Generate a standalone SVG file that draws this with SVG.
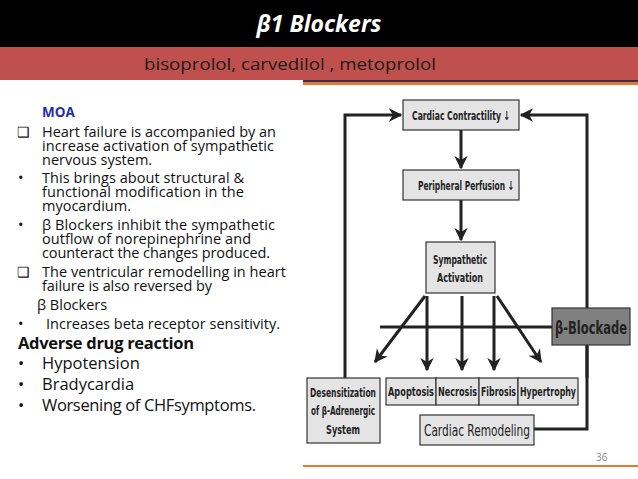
<svg xmlns="http://www.w3.org/2000/svg" width="638" height="479" viewBox="0 0 638 479">
<defs>
<marker id="ah" viewBox="0 0 10 10" refX="9" refY="5" markerWidth="4.5" markerHeight="5" orient="auto" markerUnits="strokeWidth"><path d="M0,0 L10,5 L0,10 L3,5 z" fill="#222"/></marker>
<style>
.t{font-family:"Open Sans",sans-serif;font-size:14.5px;fill:#111}
.b{font-family:"DejaVu Sans Condensed","Liberation Sans",sans-serif;font-weight:bold;fill:#222;text-anchor:middle}
.bx{fill:#e4e4e4;stroke:#333;stroke-width:1.2}
.c{stroke:#222;fill:none;stroke-width:3}
</style>
</defs>
<rect width="638" height="479" fill="#fff"/>
<rect x="0" y="0" width="638" height="47" fill="#000"/>
<text x="319" y="32" text-anchor="middle" font-family="Open Sans,sans-serif" font-style="italic" font-weight="bold" font-size="23" fill="#fff">β1 Blockers</text>
<rect x="0" y="47" width="638" height="33" fill="#c0504d"/>
<text x="144" y="70" font-family="Open Sans,sans-serif" font-size="16.5" fill="#1a1a1a" textLength="292" lengthAdjust="spacingAndGlyphs">bisoprolol, carvedilol , metoprolol</text>
<rect x="303" y="80" width="335" height="2" fill="#3a2f4a"/>
<rect x="303" y="82" width="335" height="3" fill="#e07a2e"/>
<g id="text">
<text x="42" y="117" font-family="Open Sans,sans-serif" font-weight="bold" font-size="13.5" fill="#1f2fae">MOA</text>
<text class="t"><tspan x="17" y="137" font-size="14">❑</tspan><tspan x="42" y="137" textLength="234">Heart failure is accompanied by an</tspan><tspan x="42" y="151" textLength="232">increase activation of sympathetic</tspan><tspan x="42" y="165">nervous system.</tspan>
<tspan x="18" y="183">•</tspan><tspan x="42" y="183" textLength="202">This brings about structural &amp;</tspan><tspan x="42" y="197" textLength="202">functional modification in the</tspan><tspan x="42" y="211">myocardium.</tspan>
<tspan x="18" y="230">•</tspan><tspan x="42" y="230" textLength="233">β Blockers  inhibit the sympathetic</tspan><tspan x="42" y="244" textLength="209">outflow of norepinephrine and</tspan><tspan x="42" y="258" textLength="228">counteract the changes produced.</tspan>
<tspan x="17" y="277" font-size="14">❑</tspan><tspan x="42" y="277" textLength="244">The ventricular remodelling in heart</tspan><tspan x="42" y="291" textLength="170">failure is also reversed by</tspan>
<tspan x="37" y="310">β Blockers</tspan>
<tspan x="18" y="329">•</tspan><tspan x="46" y="329" textLength="234">Increases beta receptor sensitivity.</tspan></text>
<text x="18" y="349" font-family="Open Sans,sans-serif" font-weight="bold" font-size="16.5" fill="#111" textLength="176">Adverse drug reaction</text>
<text class="t" style="font-size:16.5px"><tspan x="18" y="369">•</tspan><tspan x="42" y="369">Hypotension</tspan><tspan x="18" y="390">•</tspan><tspan x="42" y="390">Bradycardia</tspan><tspan x="18" y="411">•</tspan><tspan x="42" y="411" textLength="214">Worsening of CHFsymptoms.</tspan></text>
</g>
<g id="connectors">
<line class="c" x1="380" y1="327" x2="552" y2="327"/>
<polyline class="c" points="587,378 587,115 521,115" marker-end="url(#ah)"/>
<polyline class="c" points="534,429 587,429 587,345"/>
<polyline class="c" points="345,378 345,115 401,115" marker-end="url(#ah)"/>
<line class="c" x1="461" y1="130" x2="461" y2="168" marker-end="url(#ah)"/>
<line class="c" x1="461" y1="200" x2="461" y2="240" marker-end="url(#ah)"/>
<line class="c" x1="425" y1="296" x2="375" y2="362" marker-end="url(#ah)"/>
<line class="c" x1="427" y1="296" x2="427" y2="370" marker-end="url(#ah)"/>
<line class="c" x1="462" y1="296" x2="462" y2="370" marker-end="url(#ah)"/>
<line class="c" x1="494" y1="296" x2="494" y2="370" marker-end="url(#ah)"/>
<line class="c" x1="497" y1="296" x2="541" y2="362" marker-end="url(#ah)"/>
</g>
<g id="n-contract"><rect class="bx" x="403" y="100" width="116" height="30"/><text class="b" x="461" y="120" font-size="12.5" textLength="98" lengthAdjust="spacingAndGlyphs">Cardiac Contractility ↓</text></g>
<g id="n-perf"><rect class="bx" x="403" y="170" width="116" height="30"/><text class="b" x="466" y="190" font-size="12.5" textLength="96" lengthAdjust="spacingAndGlyphs">Peripheral Perfusion ↓</text></g>
<g id="n-symp"><rect class="bx" x="426" y="242" width="69" height="51"/><text class="b" x="460" y="264" font-size="12.5" textLength="54" lengthAdjust="spacingAndGlyphs">Sympathetic</text><text class="b" x="460" y="282" font-size="12.5" textLength="46" lengthAdjust="spacingAndGlyphs">Activation</text></g>
<g id="n-block"><rect x="552" y="308" width="78" height="37" fill="#808080" stroke="#333" stroke-width="1.2"/><text class="b" x="591" y="334" font-size="18" textLength="72" lengthAdjust="spacingAndGlyphs">β-Blockade</text></g>
<g id="n-desens"><rect class="bx" x="307" y="378" width="73" height="65"/><text class="b" x="343" y="397" font-size="12" textLength="66" lengthAdjust="spacingAndGlyphs">Desensitization</text><text class="b" x="343" y="415" font-size="12" textLength="64" lengthAdjust="spacingAndGlyphs">of β-Adrenergic</text><text class="b" x="343" y="434" font-size="12" textLength="34" lengthAdjust="spacingAndGlyphs">System</text></g>
<g id="n-apop"><rect class="bx" x="386" y="378" width="50" height="27"/><text class="b" x="411" y="396" font-size="12" textLength="46" lengthAdjust="spacingAndGlyphs">Apoptosis</text></g>
<g id="n-necr"><rect class="bx" x="436" y="378" width="43" height="27"/><text class="b" x="457.5" y="396" font-size="12" textLength="39" lengthAdjust="spacingAndGlyphs">Necrosis</text></g>
<g id="n-fib"><rect class="bx" x="479" y="378" width="39" height="27"/><text class="b" x="498.5" y="396" font-size="12" textLength="35" lengthAdjust="spacingAndGlyphs">Fibrosis</text></g>
<g id="n-hyp"><rect class="bx" x="518" y="378" width="60" height="27"/><text class="b" x="548" y="396" font-size="12" textLength="56" lengthAdjust="spacingAndGlyphs">Hypertrophy</text></g>
<g id="n-remod"><rect class="bx" x="420" y="415" width="114" height="30"/><text class="b" x="477" y="436" font-size="15" textLength="106" lengthAdjust="spacingAndGlyphs" style="font-weight:normal">Cardiac Remodeling</text></g>
<text x="596" y="461" font-family="Open Sans,sans-serif" font-size="10" fill="#888">36</text>
<rect x="303" y="465" width="335" height="2" fill="#e07a2e"/>
</svg>
